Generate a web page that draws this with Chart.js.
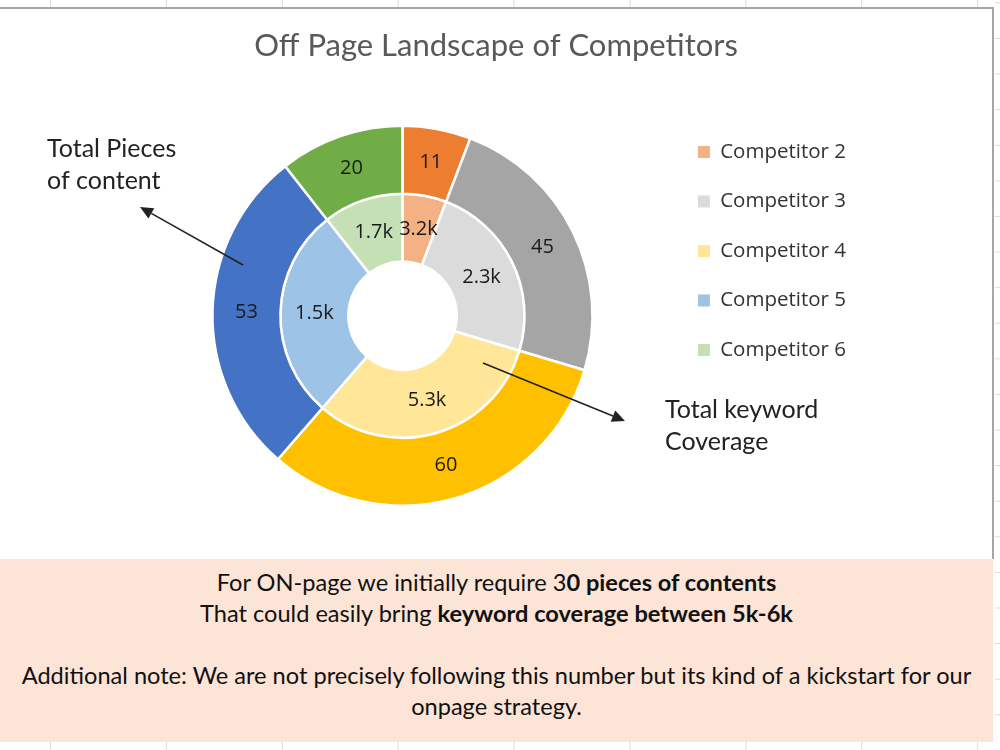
<!DOCTYPE html>
<html>
<head>
<meta charset="utf-8">
<script src="https://cdn.jsdelivr.net/npm/chart.js@4.4.1/dist/chart.umd.min.js"></script>
<style>
  body {
    margin: 0;
    width: 1000px;
    height: 750px;
    overflow: hidden;
    position: relative;
    background-color: #fff;
    background-image: linear-gradient(to right, #dadada 1px, transparent 1px);
    background-size: 115.9px 100%;
    background-position: 50px 0;
  }
  #rows {
    position: absolute; left: 995px; top: 0; width: 5px; height: 750px;
    background-image: linear-gradient(to bottom, #dadada 1px, transparent 1px);
    background-size: 100% 35.6px;
    background-position: 0 38px;
  }
  #box {
    position: absolute; left: -3px; top: 7px; width: 997px; height: 552px;
    box-sizing: border-box;
    border-top: 2px solid #a6a6a6; border-right: 2px solid #a6a6a6;
    background: #fff;
  }
  #chart { position: absolute; left: 0; top: 0; }
  #note {
    position: absolute; left: 0; top: 559px; width: 993px; height: 183px;
    box-sizing: border-box; padding-top: 8px;
    background: #fce4d6;
    font-family: Lato, sans-serif; font-size: 23.6px; line-height: 31px;
    color: #111; text-align: center;
  }
  #note div { white-space: nowrap; }
</style>
</head>
<body>
<div id="rows"></div>
<div id="box"></div>
<canvas id="chart" width="1000" height="559"></canvas>
<div id="note">
  <div>For ON-page we initially require 3<b>0 pieces of contents</b></div>
  <div>That could easily bring <b>keyword coverage between 5k-6k</b></div>
  <div>&nbsp;</div>
  <div>Additional note: We are not precisely following this number but its kind of a kickstart for our</div>
  <div>onpage strategy.</div>
</div>
<script>
// データ
const competitors = ['Competitor 2', 'Competitor 3', 'Competitor 4', 'Competitor 5', 'Competitor 6'];
const piecesOfContent = [11, 45, 60, 53, 20];
const keywordCoverage = ['3.2k', '2.3k', '5.3k', '1.5k', '1.7k'];

const outerColors = ['#ED7D31', '#A5A5A5', '#FFC000', '#4472C4', '#70AD47'];
const innerColors = ['#F4B183', '#DBDBDB', '#FFE699', '#9DC3E6', '#C5E0B4'];

// 各スライスの中央に数値を描く
const sliceLabels = {
	id: 'sliceLabels',
	afterDatasetsDraw(chart)
	{
		const ctx = chart.ctx;
		ctx.save();
		ctx.font = '20px "Open Sans"';
		ctx.fillStyle = '#1a1a1a';
		ctx.textAlign = 'center';
		ctx.textBaseline = 'middle';
		chart.data.datasets.forEach((ds, d) => {
			chart.getDatasetMeta(d).data.forEach((arc, i) => {
				const p = arc.getCenterPoint();
				ctx.fillText(ds.sliceText[i], p.x, p.y);
			});
		});
		ctx.restore();
	}
};

function arrow(ctx, x1, y1, x2, y2)
{
	const a = Math.atan2(y2 - y1, x2 - x1);
	const len = 13, half = 6;
	ctx.beginPath();
	ctx.moveTo(x1, y1);
	ctx.lineTo(x2 - len * Math.cos(a), y2 - len * Math.sin(a));
	ctx.stroke();
	ctx.beginPath();
	ctx.moveTo(x2, y2);
	ctx.lineTo(x2 - len * Math.cos(a) + half * Math.sin(a), y2 - len * Math.sin(a) - half * Math.cos(a));
	ctx.lineTo(x2 - len * Math.cos(a) - half * Math.sin(a), y2 - len * Math.sin(a) + half * Math.cos(a));
	ctx.closePath();
	ctx.fill();
}

// 注釈と矢印
const callouts = {
	id: 'callouts',
	afterDraw(chart)
	{
		const ctx = chart.ctx;
		ctx.save();
		ctx.font = '25px Lato';
		ctx.fillStyle = '#222';
		ctx.strokeStyle = '#222';
		ctx.lineWidth = 1.6;
		ctx.textAlign = 'left';
		ctx.textBaseline = 'alphabetic';
		ctx.fillText('Total Pieces', 47, 157);
		ctx.fillText('of content', 47, 189);
		ctx.fillText('Total keyword', 665, 418);
		ctx.fillText('Coverage', 665, 450);
		arrow(ctx, 243, 265, 140, 207);
		arrow(ctx, 483, 363, 625, 421);
		ctx.restore();
	}
};

const ctx = document.getElementById('chart').getContext('2d');
new Chart(ctx, {
	type: 'doughnut',
	data: {
		labels: competitors,
		datasets: [
			{
				data: piecesOfContent,
				sliceText: piecesOfContent.map(String),
				backgroundColor: outerColors,
				borderColor: '#fff',
				borderWidth: 2.5
			},
			{
				// 元の図では内側の輪も外側と同じ比率で分割されている
				data: piecesOfContent,
				sliceText: keywordCoverage,
				backgroundColor: innerColors,
				borderColor: '#fff',
				borderWidth: 2.5
			}
		]
	},
	options: {
		responsive: false,
		animation: false,
		radius: 190,
		cutout: '28.5%',
		layout: { padding: { left: 136, right: 144, top: 0, bottom: 40.25 } },
		plugins: {
			tooltip: { enabled: false },
			title: {
				display: true,
				text: 'Off Page Landscape of Competitors',
				color: '#595959',
				font: { family: 'Lato', size: 31, weight: 'normal' },
				padding: { top: 27, bottom: 48.55 }
			},
			legend: {
				position: 'right',
				align: 'start',
				fullSize: false,
				labels: {
					boxWidth: 12,
					boxHeight: 12,
					padding: 29,
					color: '#333',
					font: { family: 'Open Sans', size: 20.5 },
					generateLabels: (chart) => chart.data.labels.map((text, i) => ({
						text: text,
						fillStyle: innerColors[i],
						strokeStyle: innerColors[i],
						fontColor: '#333',
						lineWidth: 0,
						hidden: false,
						index: i
					}))
				}
			}
		}
	},
	plugins: [sliceLabels, callouts]
});
</script>
</body>
</html>
